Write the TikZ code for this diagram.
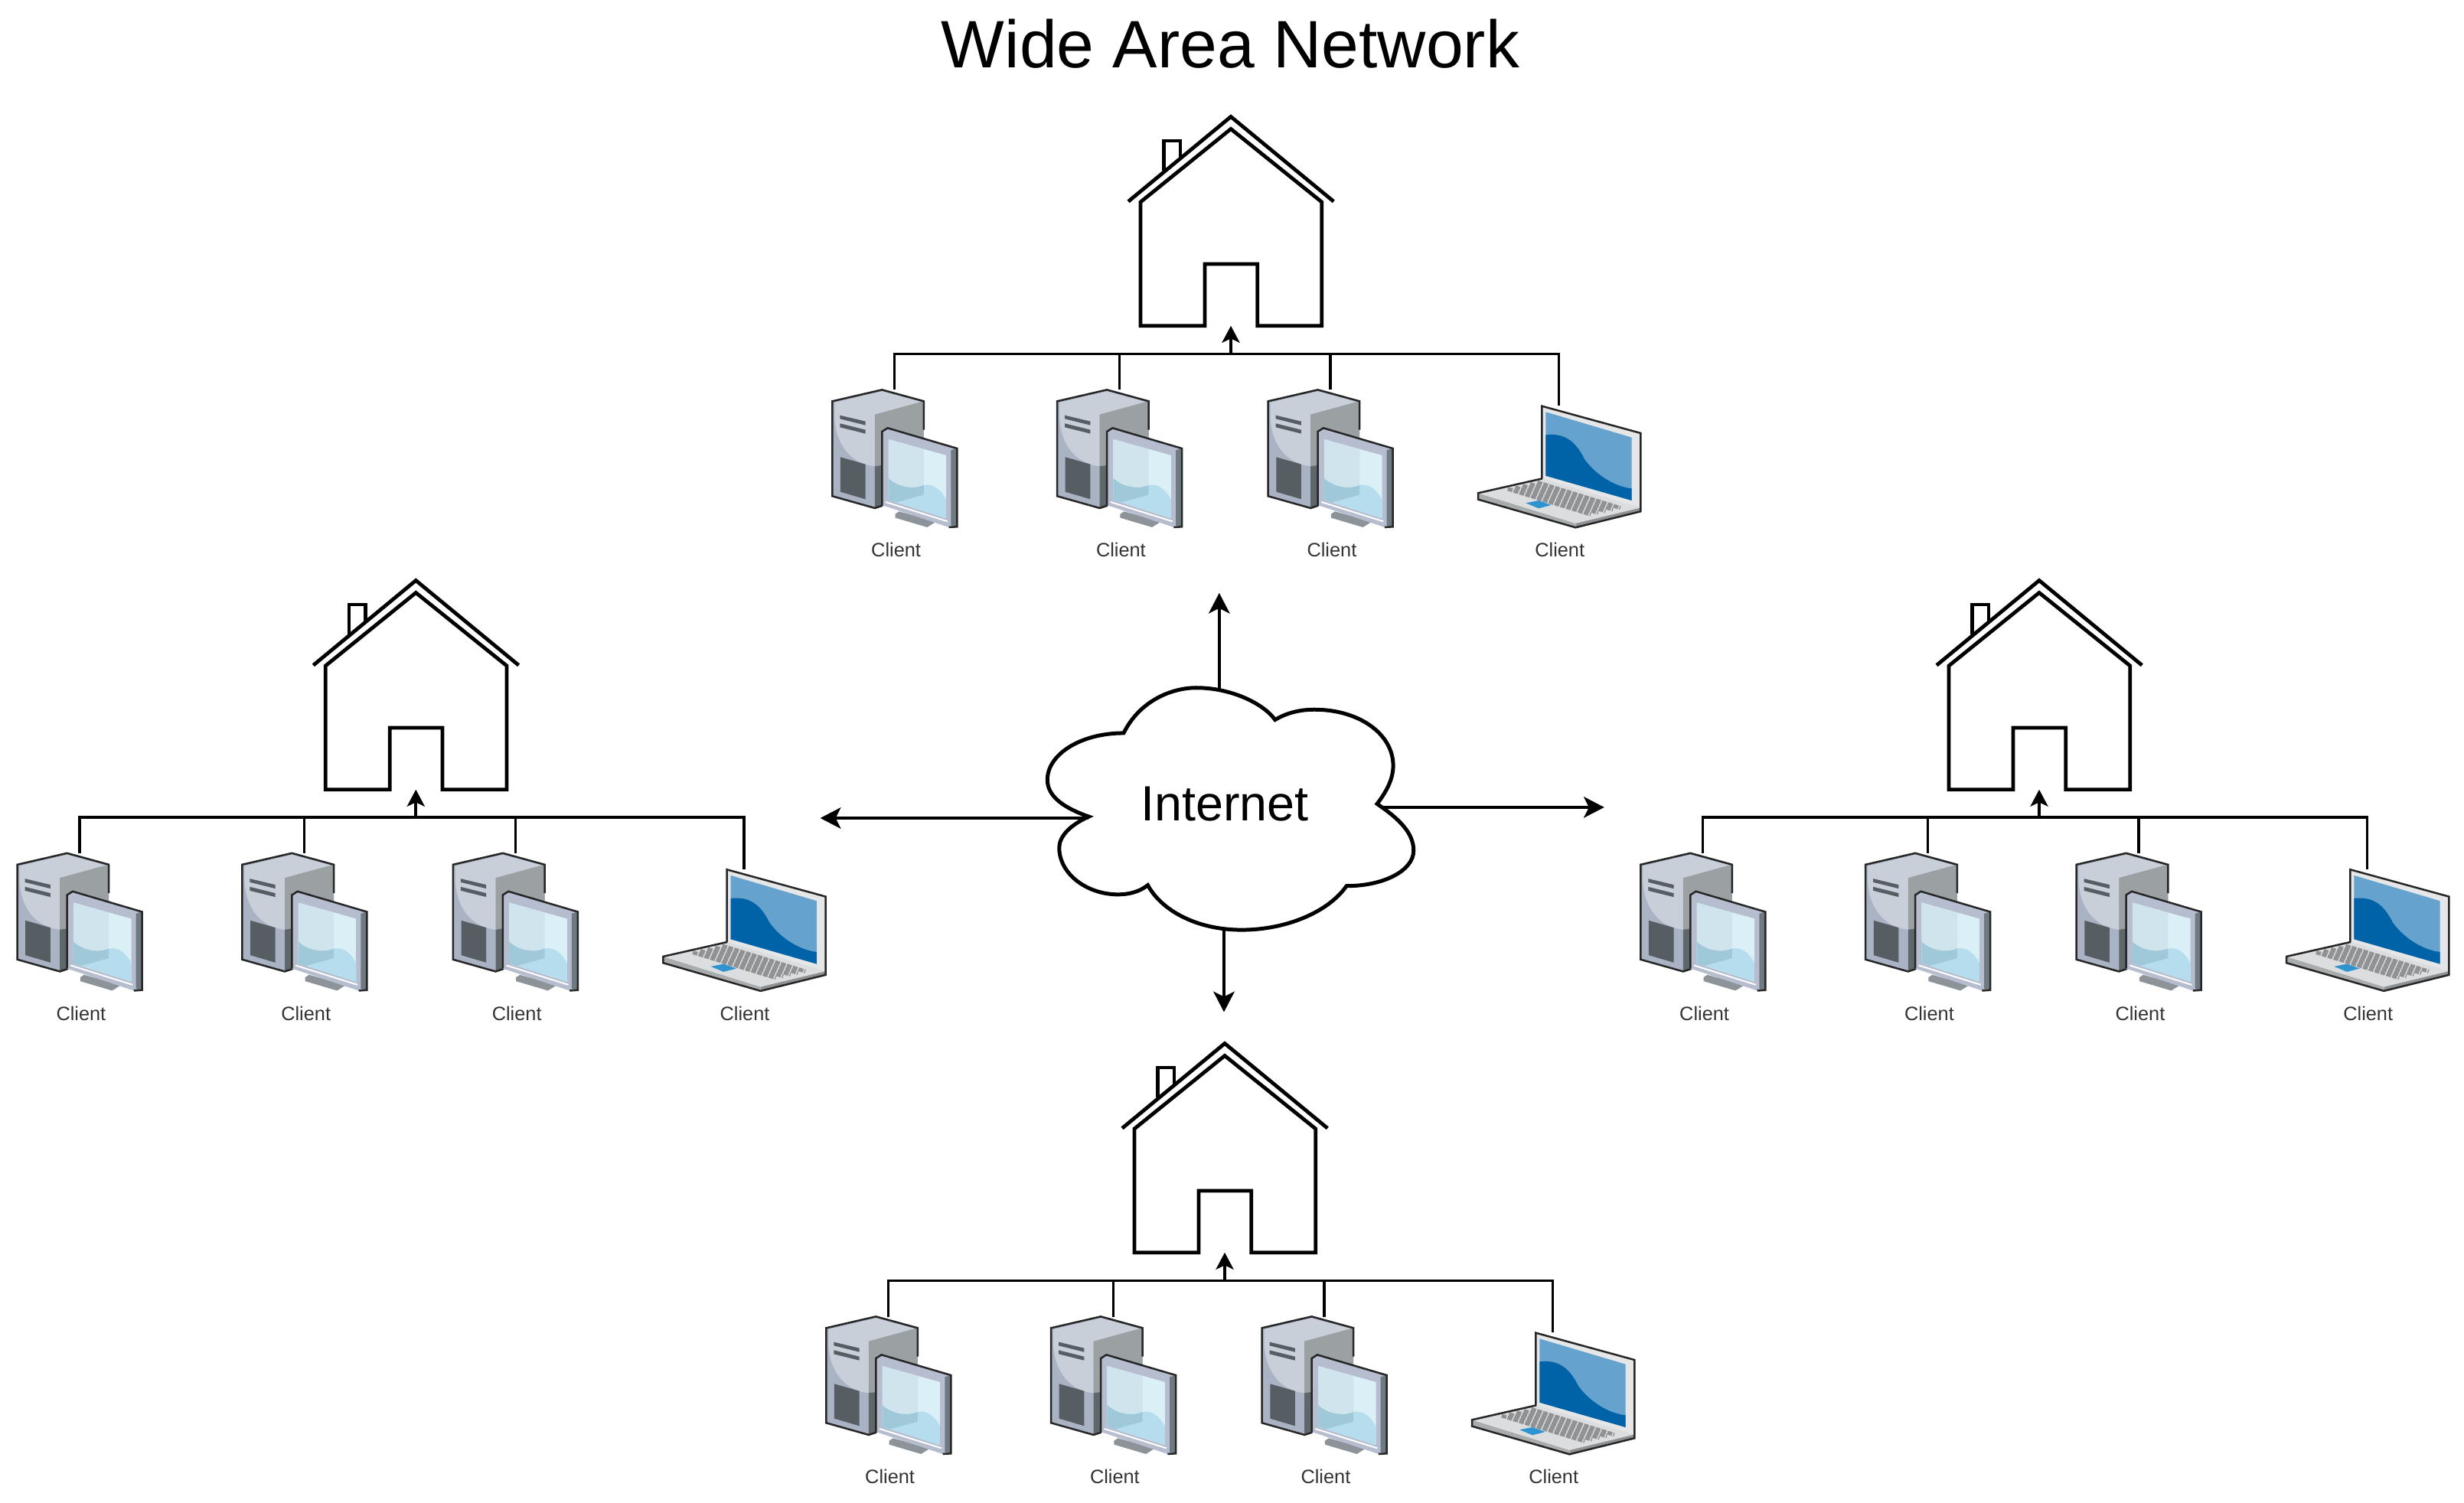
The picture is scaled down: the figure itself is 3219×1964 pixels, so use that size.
\documentclass[tikz,border=0pt]{standalone}
\usepackage{xcolor}
\usepackage{fontspec}
\setmainfont{Liberation Sans}
\usetikzlibrary{arrows.meta}

\definecolor{towerbase}{HTML}{A9B3C3}
\definecolor{towerlight}{HTML}{C9CFD9}
\definecolor{towerside}{HTML}{9BA1A3}
\definecolor{towerdark}{HTML}{5F676B}
\definecolor{towerpanel}{HTML}{565E63}
\definecolor{monframe}{HTML}{B6BDCF}
\definecolor{monside}{HTML}{6F7A80}
\definecolor{monstand}{HTML}{8C949A}
\definecolor{screenhigh}{HTML}{DBEFF7}
\definecolor{screenlow}{HTML}{B5DDEE}
\definecolor{screentower}{HTML}{CFE4EC}
\definecolor{screentowerlow}{HTML}{9FC8D8}
\definecolor{lidgrey}{HTML}{E4E6E8}
\definecolor{lapscreen}{HTML}{65A2CD}
\definecolor{lapwave}{HTML}{0063A8}
\definecolor{lapdeck}{HTML}{DCDDDF}
\definecolor{lapfront}{HTML}{A9ACAD}
\definecolor{lapright}{HTML}{8E9194}
\definecolor{lapkey}{HTML}{8F9193}
\definecolor{lappad}{HTML}{2F93D0}
\definecolor{labelgrey}{HTML}{333333}

\tikzset{
    wall/.style={line width=1.45pt, line join=miter},
    wire/.style={line width=1pt},
    outline/.style={line width=0.75pt, draw=black!85},
    keyrow/.style={line width=1.5pt, draw=lapkey, dash pattern=on 1.9pt off 0.5pt},
    small arrow/.style={line width=1.3pt, -{Stealth[length=6.6pt, width=6.9pt, inset=1.6pt]}},
    big arrow/.style={line width=1.3pt, -{Stealth[length=8pt, width=8.2pt, inset=2pt]}},
    client label/.style={font=\fontsize{7.6pt}{9pt}\selectfont, text=labelgrey, anchor=base, inner sep=0pt},
    house/.pic={
        \coordinate (-door) at (0,276.7);
        \draw[wall] (-134,114.3) -- (0,3.5) -- (134.3,114.3);
        \draw[wall] (-118,115) -- (-118,276.7) -- (-34,276.7) -- (-34,196) -- (34.7,196)
            -- (34.7,276.7) -- (118.7,276.7) -- (118.7,115) -- (0,19.5) -- cycle;
        \draw[wall] (-87.3,74) -- (-87.3,35) -- (-66,35) -- (-66,56.7);
    },
    client/.pic={
        \coordinate (-top) at (0,0);
        \node[client label] (-label) at (2,218) {Client};
        \begin{scope}[shift={(-109,-19.5)}, scale=0.3333]
            % tower
            \fill[towerbase] (83,103) -- (278,58) -- (442,103) -- (442,470) -- (250,522) -- (83,475) -- cycle;
            \fill[towerlight] (92,108) -- (278,64) -- (430,105) -- (250,155) -- (250,358)
                .. controls (170,350) and (100,290) .. (92,170) -- cycle;
            \fill[towerside] (250,155) -- (442,103) -- (442,330) -- (250,358) -- cycle;
            \fill[towerdark] (250,358) -- (442,330) -- (442,470) -- (250,522) -- cycle;
            \fill[towerpanel] (113,158) -- (213,182) -- (213,197) -- (113,172) -- cycle;
            \fill[towerpanel] (113,190) -- (213,215) -- (213,230) -- (113,205) -- cycle;
            \fill[towerpanel] (115,322) -- (213,350) -- (213,487) -- (115,458) -- cycle;
            \draw[outline] (442,215) -- (442,103) -- (278,58) -- (83,103) -- (83,475) -- (250,522) -- (280,512);
            % monitor
            \fill[monstand] (330,545) -- (345,535) -- (490,575) -- (455,597) -- (330,560) -- cycle;
            \fill[monframe] (278,222) -- (300,208) -- (572,288) -- (572,595) -- (540,597) -- (278,510) -- cycle;
            \fill[monside] (548,295) -- (572,288) -- (572,595) -- (548,590) -- cycle;
            \begin{scope}
                \clip (303,252) -- (530,315) -- (530,562) -- (303,490) -- cycle;
                \fill[screenhigh] (303,252) rectangle (530,562);
                \fill[screenlow] (303,405) .. controls (340,440) and (400,450) .. (442,432)
                    .. controls (480,425) and (510,450) .. (530,490) -- (530,562) -- (303,562) -- cycle;
                \fill[screentower] (303,252) -- (442,291) -- (442,470) -- (303,508) -- cycle;
                \fill[screentowerlow] (303,405) .. controls (340,440) and (400,450) .. (442,432)
                    -- (442,470) -- (303,508) -- cycle;
            \end{scope}
            \draw[white, line width=0.6pt] (292,498) -- (535,574);
            \draw[outline] (278,510) -- (278,222) -- (300,208) -- (572,288) -- (572,595) -- (540,597);
        \end{scope}
    },
    laptop/.pic={
        \coordinate (-top) at (0,0);
        \node[client label] (-label) at (1,197.5) {Client};
        \begin{scope}[shift={(-136.7,-30)}, scale=0.3333]
            % lid
            \fill[lidgrey] (343,92) -- (730,198) -- (730,490) -- (343,378) -- cycle;
            \fill[lapscreen] (358,115) -- (695,215) -- (695,462) -- (358,365) -- cycle;
            \fill[lapwave] (358,205) .. controls (440,195) and (480,240) .. (510,300)
                .. controls (560,370) and (640,410) .. (695,415) -- (695,462) -- (358,365) -- cycle;
            % base
            \fill[lapfront] (93,433) -- (475,550) -- (475,568) -- (93,458) -- cycle;
            \fill[lapright] (475,550) -- (730,490) -- (730,505) -- (475,568) -- cycle;
            \fill[lapdeck] (93,433) -- (345,376) -- (730,490) -- (475,552) -- cycle;
            \draw[keyrow] (209.5,416.8) -- (534.5,516.8);
            \draw[keyrow] (238.5,410.4) -- (563.5,510.4);
            \draw[keyrow] (267.5,404) -- (592.5,504);
            \draw[keyrow] (296.5,397.6) -- (621.5,497.6);
            \draw[keyrow] (325.5,391.2) -- (650.5,491.2);
            \fill[lappad] (280,472) -- (330,462) -- (380,480) -- (330,493) -- cycle;
            \draw[outline] (343,376) -- (343,92) -- (730,198) -- (730,505) -- (475,568) -- (93,458) -- (93,433) -- (345,376);
        \end{scope}
    }
}

\begin{document}
\begin{tikzpicture}[x=0.3pt, y=-0.3pt]
    \useasboundingbox (0,0) rectangle (3219,1964);

    \node[font=\fontsize{26.3pt}{30pt}\selectfont, anchor=base, inner sep=0pt] (title) at (1607.5,88.5) {Wide Area Network};

    % cloud, traced in its own stretched frame
    \begin{scope}[shift={(1040,760)}, xscale=0.7015, yscale=0.37]
        \draw[line width=1.5pt, line join=miter] (610,535)
            .. controls (640,420) and (700,375) .. (745,375)
            .. controls (810,375) and (870,430) .. (892,488)
            .. controls (915,462) and (940,452) .. (965,452)
            .. controls (1050,452) and (1112,540) .. (1112,650)
            .. controls (1112,700) and (1098,745) .. (1082,785)
            .. controls (1125,840) and (1150,890) .. (1150,950)
            .. controls (1150,1020) and (1095,1075) .. (1025,1075)
            .. controls (990,1170) and (910,1230) .. (830,1230)
            .. controls (745,1230) and (680,1160) .. (655,1072)
            .. controls (640,1095) and (620,1105) .. (600,1105)
            .. controls (540,1105) and (490,1030) .. (490,940)
            .. controls (490,900) and (510,860) .. (545,830)
            .. controls (500,800) and (468,760) .. (468,700)
            .. controls (468,610) and (530,535) .. (610,535) -- cycle;
    \end{scope}
    \node[font=\fontsize{19.4pt}{23pt}\selectfont, anchor=base, inner sep=0pt] (internet) at (1600,1072.8) {Internet};

    \coordinate (cloudtop) at (1592.8,900.6);
    \coordinate (cloudleft) at (1422,1069);
    \coordinate (cloudright) at (1804.6,1054.9);
    \coordinate (cloudbottom) at (1599,1214);
    \coordinate (totop) at (1592.8,774.8);
    \coordinate (toleft) at (1071.6,1069);
    \coordinate (toright) at (2095.8,1054.9);
    \coordinate (tobottom) at (1599,1322.5);

    \pic (thouse) at (1608,149) {house};
    \pic (lhouse) at (543.3,755) {house};
    \pic (rhouse) at (2664,755) {house};
    \pic (bhouse) at (1600,1360) {house};

    \coordinate (tbus) at (1608,462.4);
    \coordinate (lbus) at (543.3,1068);
    \coordinate (rbus) at (2664,1068);
    \coordinate (bbus) at (1600,1673.5);

    \pic (tc1) at (1168.6,509.5) {client};
    \pic (tc2) at (1462.4,509.5) {client};
    \pic (tc3) at (1737.9,509.5) {client};
    \pic (tc4) at (2036.7,530) {laptop};

    \pic (lc1) at (103.9,1115) {client};
    \pic (lc2) at (397.7,1115) {client};
    \pic (lc3) at (673.2,1115) {client};
    \pic (lc4) at (972,1135.6) {laptop};

    \pic (rc1) at (2224.6,1115) {client};
    \pic (rc2) at (2518.4,1115) {client};
    \pic (rc3) at (2793.9,1115) {client};
    \pic (rc4) at (3092.7,1135.6) {laptop};

    \pic (bc1) at (1160.6,1720.5) {client};
    \pic (bc2) at (1454.4,1720.5) {client};
    \pic (bc3) at (1729.9,1720.5) {client};
    \pic (bc4) at (2028.7,1741) {laptop};

    \draw[big arrow] (cloudtop) -- (totop);
    \draw[big arrow] (cloudleft) -- (toleft);
    \draw[big arrow] (cloudright) -- (toright);
    \draw[big arrow] (cloudbottom) -- (tobottom);

    \draw[wire] (tc1-top) |- (tbus);
    \draw[wire] (tc2-top) |- (tbus);
    \draw[wire] (tc3-top) |- (tbus);
    \draw[wire] (tc4-top) |- (tbus);
    \draw[small arrow] (tbus) -- (thouse-door);

    \draw[wire] (lc1-top) |- (lbus);
    \draw[wire] (lc2-top) |- (lbus);
    \draw[wire] (lc3-top) |- (lbus);
    \draw[wire] (lc4-top) |- (lbus);
    \draw[small arrow] (lbus) -- (lhouse-door);

    \draw[wire] (rc1-top) |- (rbus);
    \draw[wire] (rc2-top) |- (rbus);
    \draw[wire] (rc3-top) |- (rbus);
    \draw[wire] (rc4-top) |- (rbus);
    \draw[small arrow] (rbus) -- (rhouse-door);

    \draw[wire] (bc1-top) |- (bbus);
    \draw[wire] (bc2-top) |- (bbus);
    \draw[wire] (bc3-top) |- (bbus);
    \draw[wire] (bc4-top) |- (bbus);
    \draw[small arrow] (bbus) -- (bhouse-door);
\end{tikzpicture}
\end{document}
